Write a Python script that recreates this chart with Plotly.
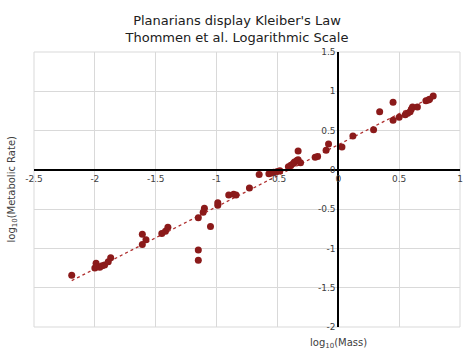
import plotly.graph_objects as go
import numpy as np

# log10(Mass)
mass_log = [-2.19, -2.00, -1.99, -1.98, -1.96, -1.94, -1.92, -1.89, -1.87,
            -1.61, -1.58, -1.61, -1.45, -1.42, -1.40,
            -1.15, -1.11, -1.10, -1.15, -1.15, -1.05, -0.99, -0.99,
            -0.90, -0.86, -0.84, -0.73, -0.65, -0.57, -0.55, -0.53, -0.50, -0.48,
            -0.41, -0.39, -0.37, -0.36, -0.34, -0.33, -0.33, -0.31,
            -0.19, -0.17, -0.10, -0.08, 0.03, 0.12, 0.29, 0.34, 0.45, 0.45,
            0.50, 0.55, 0.57, 0.59, 0.60, 0.61, 0.65, 0.72, 0.74, 0.75, 0.78]
# log10(Metabolic Rate)
rate_log = [-1.34, -1.25, -1.19, -1.23, -1.24, -1.22, -1.21, -1.17, -1.12,
            -0.82, -0.89, -0.95, -0.81, -0.78, -0.73,
            -0.61, -0.54, -0.49, -1.02, -1.15, -0.72, -0.45, -0.42,
            -0.32, -0.31, -0.32, -0.23, -0.06, -0.05, -0.04, -0.03, -0.02, -0.01,
            0.04, 0.06, 0.08, 0.10, 0.12, 0.13, 0.24, 0.09,
            0.16, 0.17, 0.25, 0.33, 0.29, 0.43, 0.51, 0.74, 0.63, 0.86,
            0.67, 0.70, 0.72, 0.74, 0.77, 0.80, 0.80, 0.88, 0.89, 0.90, 0.94]

# linear trendline (as shown in chart)
trend_slope = 0.79
trend_intercept = 0.32

x_tick_vals = [-2.5, -2, -1.5, -1, -0.5, 0, 0.5, 1]
x_tick_text = ["-2.5", "-2", "-1.5", "-1", "-0.5", "0", "0.5", "1"]
y_tick_vals = [-2, -1.5, -1, -0.5, 0, 0.5, 1, 1.5]
y_tick_text = ["-2", "-1.5", "-1", "-0.5", "0", "0.5", "1", "1.5"]

x_range = [-2.5, 1]
y_range = [-2, 1.5]

FONT = "DejaVu Sans, Verdana, sans-serif"
RED = "#8B1A1A"

tx = np.array([min(mass_log), max(mass_log)])
ty = trend_slope * tx + trend_intercept

fig = go.Figure()
fig.add_trace(go.Scatter(x=tx, y=ty, mode="lines",
                         line=dict(color="#B03030", width=1.3, dash="dot"),
                         showlegend=False, hoverinfo="skip"))
fig.add_trace(go.Scatter(x=mass_log, y=rate_log, mode="markers",
                         marker=dict(color=RED, size=7),
                         showlegend=False))

x_pos = (0 - y_range[0]) / (y_range[1] - y_range[0])
y_pos = (0 - x_range[0]) / (x_range[1] - x_range[0])

fig.update_layout(
    width=474, height=353,
    margin=dict(l=34, r=14, t=52, b=26),
    paper_bgcolor="white", plot_bgcolor="white",
    font=dict(family=FONT, color="#404040", size=9),
    title=dict(text="Planarians display Kleiber's Law<br>Thommen et al. Logarithmic Scale",
               x=0.5, xref="container", xanchor="center",
               y=1 - 25 / 353, yref="container", yanchor="middle",
               font=dict(family=FONT, size=13, color="#202020")),
    xaxis=dict(range=x_range, tickvals=x_tick_vals, ticktext=x_tick_text,
               anchor="free", position=x_pos,
               showline=True, linecolor="black", linewidth=2,
               showgrid=True, gridcolor="#D9D9D9", gridwidth=1,
               zeroline=False, ticks="", tickfont=dict(size=9, color="#404040")),
    yaxis=dict(range=y_range, tickvals=y_tick_vals, ticktext=y_tick_text,
               anchor="free", position=y_pos,
               showline=True, linecolor="black", linewidth=2,
               showgrid=True, gridcolor="#D9D9D9", gridwidth=1,
               zeroline=False, ticks="", tickfont=dict(size=9, color="#404040")),
    shapes=[dict(type="rect", xref="paper", yref="paper", x0=0, y0=0, x1=1, y1=1,
                 line=dict(color="#D9D9D9", width=1), layer="below")],
    annotations=[
        dict(text="log<sub>10</sub>(Mass)", xref="x", x=0, yref="paper", y=-16 / 275,
             yanchor="middle", showarrow=False, font=dict(family=FONT, size=10, color="#404040")),
        dict(text="log<sub>10</sub>(Metabolic Rate)", xref="paper", x=-22 / 426,
             yref="paper", y=0.5, textangle=-90, showarrow=False,
             xanchor="center", yanchor="middle",
             font=dict(family=FONT, size=10, color="#404040")),
    ],
)

fig.write_html("out.html")
